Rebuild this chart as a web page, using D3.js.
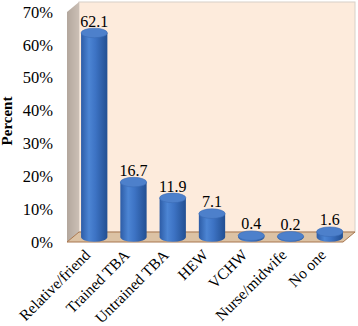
<!DOCTYPE html>
<html>
<head>
<meta charset="utf-8">
<script src="https://cdn.jsdelivr.net/npm/d3@7"></script>
<style>
  html,body{margin:0;padding:0;background:#fff;}
  svg{display:block;font-family:"Liberation Serif","Times New Roman",serif;}
</style>
</head>
<body>
<div id="chart"></div>
<script>
/* ---------- DATA ---------- */
const categories = ["Relative/friend","Trained TBA","Untrained TBA","HEW","VCHW","Nurse/midwife","No one"];
const values     = [62.1, 16.7, 11.9, 7.1, 0.4, 0.2, 1.6];
const yTicks     = [0, 10, 20, 30, 40, 50, 60, 70];
const yTitle     = "Percent";

/* ---------- LAYOUT ---------- */
const W = 358, H = 326;
const X0 = 67, X1 = 343;          // front plane of the floor
const Y0 = 242, YTOP = 12;        // 0% and 70% on the front plane
const DX = 12, DY = -10;          // depth of the box
const BAR_DX = 7, BAR_DY = -5;    // bars sit half way in
const RY = 4.8;                   // cylinder cap half-height

const svg = d3.select("#chart").append("svg").attr("width", W).attr("height", H);
const defs = svg.append("defs");

const x = d3.scaleBand().domain(categories).range([X0, X1])
  .paddingInner(0.33).paddingOuter(0.18);
const y = d3.scaleLinear().domain([0, 70]).range([Y0, YTOP]);

/* gradients */
const gBar = defs.append("linearGradient").attr("id","barGrad").attr("x1","0").attr("x2","1").attr("y1","0").attr("y2","0");
[["0%","#2d5ca6"],["30%","#4c85d4"],["55%","#3d73c4"],["100%","#224f92"]]
  .forEach(([o,c]) => gBar.append("stop").attr("offset",o).attr("stop-color",c));
const gSide = defs.append("linearGradient").attr("id","sideGrad").attr("x1","0").attr("x2","1");
[["0%","#b3a79d"],["100%","#cbbfb5"]]
  .forEach(([o,c]) => gSide.append("stop").attr("offset",o).attr("stop-color",c));

/* ---------- BOX ---------- */
// back wall
svg.append("rect")
  .attr("x", X0 + DX).attr("y", YTOP + DY)
  .attr("width", X1 - X0).attr("height", Y0 - YTOP)
  .attr("fill", "#fdebdc").attr("stroke", "#d8d0c8").attr("stroke-width", 1);
// side wall
svg.append("polygon")
  .attr("points", [[X0,YTOP],[X0+DX,YTOP+DY],[X0+DX,Y0+DY],[X0,Y0]].map(p=>p.join(",")).join(" "))
  .attr("fill", "url(#sideGrad)");
// floor
svg.append("polygon")
  .attr("points", [[X0,Y0],[X0+DX,Y0+DY],[X1+DX,Y0+DY],[X1,Y0]].map(p=>p.join(",")).join(" "))
  .attr("fill", "#dcc2a4").attr("stroke", "#a8764e").attr("stroke-width", 1);

/* ---------- BARS (cylinders) ---------- */
const bw = x.bandwidth(), rx = bw / 2;
const bars = svg.append("g").selectAll("g").data(values).enter().append("g")
  .attr("transform", (d,i) => `translate(${x(categories[i]) + BAR_DX},${BAR_DY})`);

bars.append("path")
  .attr("d", d => {
    const top = y(d), bot = y(0);
    return `M0,${top} L0,${bot} A${rx},${RY} 0 0 0 ${bw},${bot} L${bw},${top} Z`;
  })
  .attr("fill", "url(#barGrad)");
bars.append("ellipse")
  .attr("cx", rx).attr("cy", d => y(d))
  .attr("rx", rx).attr("ry", RY)
  .attr("fill", "#4d80cb").attr("stroke", "#3a6cb6").attr("stroke-width", 0.6);

bars.append("text")
  .attr("x", rx).attr("y", d => y(d) - RY - 1.5)
  .attr("text-anchor", "middle").attr("font-size", 16).attr("fill", "#000")
  .text(d => d.toFixed(1));

/* ---------- AXES TEXT ---------- */
svg.append("g").selectAll("text").data(yTicks).enter().append("text")
  .attr("x", 53).attr("y", d => y(d)).attr("dy", "0.35em")
  .attr("text-anchor", "end").attr("font-size", 16.5).attr("fill", "#000")
  .text(d => d + "%");

svg.append("text")
  .attr("transform", `translate(12,121) rotate(-90)`)
  .attr("text-anchor", "middle").attr("font-size", 15).attr("font-weight", "bold")
  .text(yTitle);

svg.append("g").selectAll("text").data(categories).enter().append("text")
  .attr("transform", d => `translate(${x(d) + bw/2 + BAR_DX - 3},256) rotate(-45)`)
  .attr("text-anchor", "end").attr("font-size", 15.5).attr("fill", "#000")
  .text(d => d);
</script>
</body>
</html>
